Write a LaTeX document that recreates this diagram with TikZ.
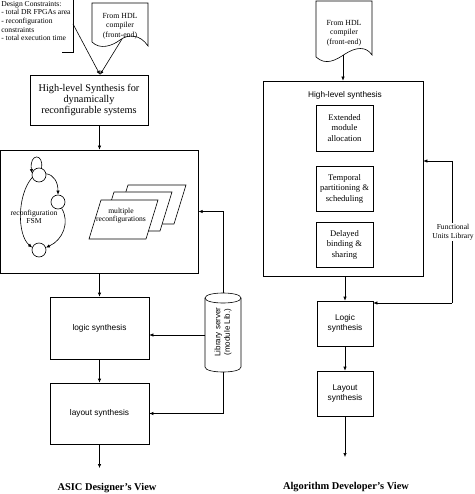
\documentclass[tikz,border=0pt]{standalone}
\usepackage{fontspec}
\setmainfont{Liberation Serif}
\newfontfamily\sansf{Liberation Sans}
\usetikzlibrary{arrows.meta,shapes.geometric}
\begin{document}
\begin{tikzpicture}[x=1pt,y=-1pt,line width=0.6pt,
  arr/.style={-{Latex[length=4pt,width=3.4pt]}},
  box/.style={draw,fill=white,inner sep=1pt,align=center},
  st/.style={draw,circle,minimum size=14pt,inner sep=0pt},
  para/.style={draw,fill=white},
  smallser/.style={font=\fontsize{7.6}{8.6}\selectfont},
  docser/.style={font=\fontsize{7.8}{9.3}\selectfont,align=center},
  inser/.style={font=\fontsize{8.6}{10.5}\selectfont},
  sans/.style={font=\sansf\fontsize{8.3}{10.3}\selectfont},
  title/.style={font=\bfseries\fontsize{10.4}{12}\selectfont}]
\useasboundingbox (0,0) rectangle (474,494);

% ---------------- left column ----------------
\node[smallser,align=left,anchor=north west,inner sep=0pt] (dc) at (1,1)
  {Design Constraints:\\- total DR FPGAs area\\- reconfiguration\\constraints\\- total execution time};
\draw (73,0) -- (73,52) -- (62,52);
\coordinate (dcpt) at (73,24);

\draw[fill=white] (92,3) -- (148,3) -- (148,46)
  .. controls (140,34) and (128,34) .. (120,40)
  .. controls (112,46) and (100,50) .. (92,42) -- cycle;
\node[docser] (docL) at (120,26) {From HDL\\compiler\\(front-end)};
\coordinate (docLb) at (122,39);

\node[box,minimum width=118pt,minimum height=50pt,font=\fontsize{10.3}{10.6}\selectfont]
  (hlsL) at (89,100) {High-level Synthesis for\\dynamically\\reconfigurable systems};
\coordinate (hin) at ([xshift=11pt]hlsL.north);
\draw[arr] (dcpt) -- (hin);
\draw[arr] (docLb) -- (hin);

\node[draw,minimum width=197.5pt,minimum height=123pt] (big) at (99.5,211.5) {};
\draw[arr] (big.north |- hlsL.south) -- (big.north);

% FSM
\node[st] (c1) at (39,175) {};
\node[st] (c2) at (58,202) {};
\node[st] (c3) at (39,250) {};
\draw[arr] (c1.70) .. controls (44,153) and (29,153) .. (c1.165);
\draw[arr] (c1.10) .. controls (54,175) and (58,182) .. (c2.north);
\draw[arr] (c2.-60) .. controls (70,222) and (63,240) .. (c3.20);
\draw[arr] (c1.200) .. controls (17,195) and (17,235) .. (c3.160);
\node[smallser,align=center,inner sep=0pt] (fsm) at (34,217) {reconfiguration\\FSM};

% multiple reconfigurations
\draw[para] (128,185) -- (186,185) -- (174,224) -- (116,224) -- cycle;
\draw[para] (114,192) -- (172,192) -- (160,231) -- (102,231) -- cycle;
\draw[para] (101,200) -- (158,200) -- (146,239) -- (89,239) -- cycle;
\node[smallser,align=center,inner sep=0pt] (mr) at (121,215.5) {multiple\\reconfigurations};

\node[box,sans,minimum width=99pt,minimum height=62pt] (logic) at (99.5,328) {logic synthesis};
\node[box,sans,minimum width=99pt,minimum height=61pt] (layout) at (99.5,413.5) {layout synthesis};
\draw[arr] (big.south) -- (logic.north);
\draw[arr] (logic.south) -- (layout.north);
\coordinate (endL) at (99.5,468);
\draw[arr] (layout.south) -- (endL);

% library server cylinder
\node[minimum width=36pt,minimum height=79pt,inner sep=0pt] (cyl) at (223,332.5) {};
\draw[fill=white] (205,298) -- (205,367)
  .. controls (205,373.67) and (241,373.67) .. (241,367) -- (241,298)
  .. controls (241,291.33) and (205,291.33) .. (205,298) -- cycle;
\draw (205,298) .. controls (205,304.67) and (241,304.67) .. (241,298);
\node[rotate=90,align=center,inner sep=0pt,font=\sansf\fontsize{8}{9.6}\selectfont] (cyltext)
  at (223,332) {Library server\\(module Lib.)};
\coordinate (cylL) at (205,335);
\draw[arr] (cyl.north) |- (big.east);
\draw[arr] (cylL) -- (cylL -| logic.east);
\draw[arr] (cyl.south) |- (layout.east);

\node[title] (t1) at (107,488) {ASIC Designer's View};

% ---------------- right column ----------------
\draw[fill=white] (316,1) -- (372,1) -- (372,55)
  .. controls (366,46) and (356,47) .. (345,54)
  .. controls (336,60) and (326,66) .. (316,57) -- cycle;
\node[docser] (docR) at (344,33) {From HDL\\compiler\\(front-end)};
\coordinate (docRb) at (343,55);

\node[draw,minimum width=160pt,minimum height=195pt] (hlsR) at (343,178.5) {};
\draw[arr] (docRb) -- (hlsR.north);
\node[sans,inner sep=0pt] (hlsRt) at (345,95) {High-level synthesis};

\node[box,inser,minimum width=57pt,minimum height=46pt] (ext) at (344.5,128) {Extended\\module\\allocation};
\node[box,inser,minimum width=57pt,minimum height=45pt] (temp) at (344.5,188.5) {Temporal\\partitioning \&\\scheduling};
\node[box,inser,minimum width=57pt,minimum height=45pt] (del) at (344.5,244.5) {Delayed\\binding \&\\sharing};

\node[box,sans,minimum width=56pt,minimum height=45pt] (logicR) at (345,323.5) {Logic\\synthesis};
\node[box,sans,minimum width=56pt,minimum height=45pt] (layoutR) at (345,393.5) {Layout\\synthesis};
\draw[arr] (logicR.north |- hlsR.south) -- (logicR.north);
\draw[arr] (logicR.south) -- (layoutR.north);
\coordinate (endR) at (345,457);
\draw[arr] (layoutR.south) -- (endR);

\coordinate (futop) at (452,161);
\coordinate (fubot) at (452,303);
\draw (futop) -- (fubot);
\draw[arr] (futop) -- (futop -| hlsR.east);
\draw[arr] (fubot) -- (fubot -| logicR.east);
\node[fill=white,inner sep=1pt,align=center,font=\fontsize{7.6}{9.5}\selectfont] (ful) at (453,232)
  {Functional\\Units Library};

\node[title] (t2) at (346,487) {Algorithm Developer's View};
\end{tikzpicture}
\end{document}
